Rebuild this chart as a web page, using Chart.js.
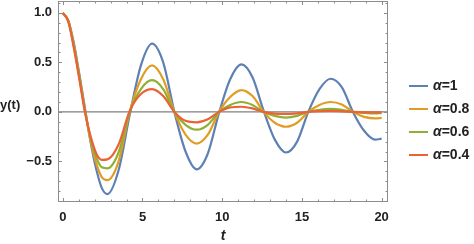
<!DOCTYPE html>
<html>
<head>
<meta charset="utf-8">
<script src="https://cdn.jsdelivr.net/npm/chart.js@4/dist/chart.umd.min.js"></script>
<style>
html,body{margin:0;padding:0;background:#fff;}
#wrap{width:474px;height:244px;}
</style>
</head>
<body>
<div id="wrap"><canvas id="myChart" width="474" height="244"></canvas></div>
<script>
// data
var t = [0,0.35,0.7,1.05,1.4,1.75,2.1,2.45,2.8,3.5,4.2,4.9,5.6,6.3,7.0,7.7,8.4,9.1,9.8,10.5,11.2,11.9,12.6,13.3,14.0,14.7,15.4,16.1,16.8,17.5,18.2,18.9,19.6,20];
var yA10 = [1.0,0.92,0.69,0.37,0.03,-0.31,-0.58,-0.77,-0.83,-0.59,-0.03,0.47,0.69,0.50,0.0,-0.40,-0.58,-0.42,-0.01,0.33,0.48,0.35,0.01,-0.28,-0.41,-0.30,0.0,0.23,0.335,0.25,0.0,-0.19,-0.28,-0.27];
var yA08 = [1.0,0.92,0.67,0.35,0.01,-0.30,-0.52,-0.66,-0.69,-0.50,0.0,0.33,0.47,0.33,0.0,-0.23,-0.32,-0.23,0.0,0.15,0.22,0.16,0.0,-0.11,-0.15,-0.11,0.0,0.07,0.10,0.075,0.0,-0.05,-0.065,-0.06];
var yA06 = [1.0,0.915,0.66,0.34,0.0,-0.27,-0.46,-0.56,-0.57,-0.41,0.0,0.23,0.32,0.23,0.0,-0.13,-0.18,-0.13,0.0,0.07,0.10,0.07,0.0,-0.04,-0.057,-0.04,0.0,0.02,0.03,0.02,0.0,-0.01,-0.015,-0.012];
var yA04 = [1.0,0.91,0.64,0.32,-0.01,-0.25,-0.42,-0.485,-0.48,-0.33,0.01,0.18,0.23,0.16,0.0,-0.09,-0.105,-0.075,0.0,0.045,0.052,0.035,0.0,-0.018,-0.02,-0.014,0.0,0.008,0.01,0.006,0.0,-0.004,-0.005,-0.004];
var labels = ["=1","=0.8","=0.6","=0.4"];
var colors = ["#5e81b5","#e19c24","#8fb032","#eb6235"];
var xTicks = [0,5,10,15,20];
var yTicks = [-0.5,0,0.5,1.0];

function pts(ys){
  return t.map(function(v,i){return {x:v,y:ys[i]};});
}
var series=[yA10,yA08,yA06,yA04];
var datasets = series.map(function(ys,i){
  return {
    label:"\u03b1"+labels[i],
    data:pts(ys),
    borderColor:colors[i],
    borderWidth:2.2,
    pointRadius:0,
    fill:false,
    cubicInterpolationMode:"monotone"
  };
}).reverse(); // red on top like the original

var FONT="'Liberation Sans', Arial, sans-serif";

//frame, ticks, zero line, titles, legend
var framePlugin={
  id:"frame",
  beforeDatasetsDraw:function(chart){
    var ctx=chart.ctx, a=chart.chartArea, ys=chart.scales.y;
    var y0=ys.getPixelForValue(0);
    ctx.save();
    ctx.strokeStyle="#7f7f7f";
    ctx.lineWidth=1.2;
    ctx.beginPath();ctx.moveTo(a.left,y0);ctx.lineTo(a.right,y0);ctx.stroke();
    ctx.restore();
  },
  afterDatasetsDraw:function(chart){
    var ctx=chart.ctx, a=chart.chartArea, xs=chart.scales.x, ys=chart.scales.y;
    ctx.save();
    ctx.strokeStyle="#8c8c8c";
    ctx.lineWidth=1;
    ctx.strokeRect(a.left+0.5,a.top+0.5,a.right-a.left-1,a.bottom-a.top-1);
    ctx.beginPath();
    for(var i=0;i<=20;i++){
      var px=Math.round(xs.getPixelForValue(i))+0.5;
      var len=(i%5===0)?4:2.5;
      ctx.moveTo(px,a.bottom);ctx.lineTo(px,a.bottom-len);
      ctx.moveTo(px,a.top);ctx.lineTo(px,a.top+len);
    }
    for(var k=-9;k<=11;k++){
      var py=Math.round(ys.getPixelForValue(k/10))+0.5;
      var l2=(k%5===0)?4:2.5;
      ctx.moveTo(a.left,py);ctx.lineTo(a.left+l2,py);
      ctx.moveTo(a.right,py);ctx.lineTo(a.right-l2,py);
    }
    ctx.stroke();
    ctx.restore();
  },
  afterDraw:function(chart){
    var ctx=chart.ctx, a=chart.chartArea;
    ctx.save();
    ctx.fillStyle="#222";
    ctx.textBaseline="middle";
    ctx.font="bold 13px "+FONT;
    ctx.textAlign="left";
    ctx.fillText("y(t)",0,105);
    ctx.textAlign="center";
    ctx.font="italic bold 14px "+FONT;
    ctx.fillText("t",(a.left+a.right)/2,236);
    // legend
    ctx.textAlign="left";
    for(var i=0;i<labels.length;i++){
      var ly=86+i*23;
      ctx.strokeStyle=colors[i];
      ctx.lineWidth=2;
      ctx.beginPath();ctx.moveTo(409,ly);ctx.lineTo(428,ly);ctx.stroke();
      ctx.font="italic bold 14px "+FONT;
      ctx.fillText("\u03b1",433,ly);
      var w=ctx.measureText("\u03b1").width;
      ctx.font="bold 14px "+FONT;
      ctx.fillText(labels[i],433+w,ly);
    }
    ctx.restore();
  }
};

var ctx=document.getElementById("myChart");
var chart=new Chart(ctx,{
  type:"line",
  data:{datasets:datasets},
  options:{
    responsive:false,
    animation:false,
    layout:{padding:{left:0,right:86,top:1,bottom:0}},
    plugins:{legend:{display:false},tooltip:{enabled:false}},
    scales:{
      x:{
        type:"linear",min:-0.3,max:20.4,
        grid:{display:false,drawTicks:false},
        border:{display:false},
        afterBuildTicks:function(s){s.ticks=xTicks.map(function(v){return {value:v};});},
        afterFit:function(s){s.height=42;s.paddingLeft=0;s.paddingRight=0;},
        ticks:{padding:8,maxRotation:0,color:"#222",font:{family:FONT,size:13,weight:"bold"},
          callback:function(v){return String(v);}}
      },
      y:{
        type:"linear",min:-0.91,max:1.12,
        grid:{display:false,drawTicks:false},
        border:{display:false},
        afterBuildTicks:function(s){s.ticks=yTicks.map(function(v){return {value:v};});},
        afterFit:function(s){s.width=58;s.paddingTop=0;s.paddingBottom=0;},
        ticks:{padding:6,color:"#222",font:{family:FONT,size:13,weight:"bold"},
          callback:function(v){return (v<0?"\u2212":"")+Math.abs(v).toFixed(1);}}
      }
    }
  },
  plugins:[framePlugin]
});
</script>
</body>
</html>
